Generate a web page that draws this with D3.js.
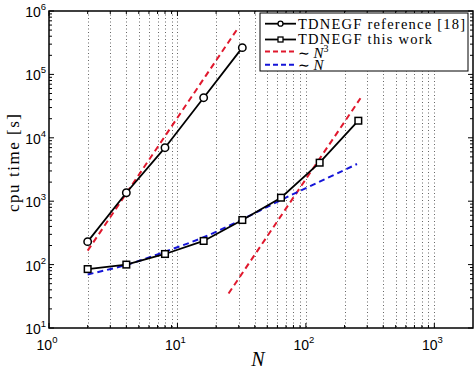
<!DOCTYPE html>
<html>
<head>
<meta charset="utf-8">
<script src="https://cdn.jsdelivr.net/npm/d3@7"></script>
<style>
  html, body { margin: 0; padding: 0; background: #fff; }
  svg { display: block; }
</style>
</head>
<body>
<svg id="chart" width="474" height="369"></svg>
<script>
// ---- data ----
const refN = [2, 4, 8, 16, 32];
const refTime = [230, 1360, 6980, 42900, 264000];
const thisN = [2, 4, 8, 16, 32, 64, 128, 256];
const thisTime = [85, 100, 147, 236, 505, 1136, 4050, 18600];
const cubeN1 = [2, 30];
const cubeT1 = [166, 560000];
const cubeN2 = [25, 266];
const cubeT2 = [35, 42000];
const linN = [2, 4, 8, 16, 32, 64, 128, 250];
const linT = [70, 99, 160, 270, 518, 1045, 2030, 3860];
const xTickExps = [0, 1, 2, 3];
const yTickExps = [1, 2, 3, 4, 5, 6];
const legendLabels = ["TDNEGF reference [18]", "TDNEGF this work", "\u223C ", "\u223C "];

// ---- layout ----
const svg = d3.select("#chart");
const L = 49, R = 473, T = 11, B = 328;
const x = d3.scaleLog().domain([1, 2000]).range([L, R]);
const y = d3.scaleLog().domain([10, 1e6]).range([B, T]);

// grid: vertical dotted lines at minor positions
const gridVals = [];
for (let e = 0; e <= 3; e++) {
  for (let m = 1; m <= 9; m++) {
    const v = m * Math.pow(10, e);
    if (v > 1 && v < 2000) gridVals.push(v);
  }
}
svg.append("g").selectAll("line").data(gridVals).join("line")
  .attr("x1", d => Math.round(x(d)) + 0.5).attr("x2", d => Math.round(x(d)) + 0.5)
  .attr("y1", T).attr("y2", B)
  .attr("stroke", "#666").attr("stroke-width", 1)
  .attr("stroke-dasharray", "1,2.5");

// frame & ticks
const frame = svg.append("g");
frame.append("rect").attr("x", L).attr("y", T).attr("width", R - L).attr("height", B - T)
  .attr("fill", "none").attr("stroke", "#000").attr("stroke-width", 1.5);

const xMinor = [], yMinor = [];
for (let e = 0; e <= 3; e++) for (let m = 2; m <= 9; m++) { const v = m * Math.pow(10, e); if (v < 2000) xMinor.push(v); }
for (let e = 1; e <= 5; e++) for (let m = 2; m <= 9; m++) yMinor.push(m * Math.pow(10, e));
const xMajor = xTickExps.map(e => Math.pow(10, e));
const yMajor = yTickExps.map(e => Math.pow(10, e));

function xt(vals, len) {
  frame.append("g").selectAll("line").data(vals).join("line")
    .attr("x1", d => x(d)).attr("x2", d => x(d)).attr("y1", B).attr("y2", B - len)
    .attr("stroke", "#000").attr("stroke-width", 1);
  frame.append("g").selectAll("line").data(vals).join("line")
    .attr("x1", d => x(d)).attr("x2", d => x(d)).attr("y1", T).attr("y2", T + len)
    .attr("stroke", "#000").attr("stroke-width", 1);
}
function yt(vals, len) {
  frame.append("g").selectAll("line").data(vals).join("line")
    .attr("y1", d => y(d)).attr("y2", d => y(d)).attr("x1", L).attr("x2", L + len)
    .attr("stroke", "#000").attr("stroke-width", 1);
  frame.append("g").selectAll("line").data(vals).join("line")
    .attr("y1", d => y(d)).attr("y2", d => y(d)).attr("x1", R).attr("x2", R - len)
    .attr("stroke", "#000").attr("stroke-width", 1);
}
xt(xMinor, 3); xt(xMajor, 5); yt(yMinor, 3); yt(yMajor, 5);

// tick labels
const tickFont = "'Liberation Sans', Arial, sans-serif";
const xl = svg.append("g").selectAll("text").data(xTickExps).join("text")
  .attr("x", d => x(Math.pow(10, d)) - 2).attr("y", 350)
  .attr("text-anchor", "middle")
  .attr("font-family", tickFont).attr("font-size", 14).attr("fill", "#000");
xl.append("tspan").text("10");
xl.append("tspan").attr("dy", -7).attr("font-size", 9.5).text(d => d);

const yl = svg.append("g").selectAll("text").data(yTickExps).join("text")
  .attr("x", 46).attr("y", d => y(Math.pow(10, d)) + 6)
  .attr("text-anchor", "end")
  .attr("font-family", tickFont).attr("font-size", 14).attr("fill", "#000");
yl.append("tspan").text("10");
yl.append("tspan").attr("dy", -7).attr("font-size", 9.5).text(d => d);

// axis labels
svg.append("text").attr("transform", "translate(19,163) rotate(-90)")
  .attr("text-anchor", "middle").attr("font-family", "'Liberation Serif', serif")
  .attr("font-size", 17).attr("textLength", 98).attr("lengthAdjust", "spacing").text("cpu time [s]");
svg.append("text").attr("x", 258).attr("y", 366)
  .attr("text-anchor", "middle").attr("font-family", "'Liberation Serif', serif")
  .attr("font-style", "italic").attr("font-size", 20).text("N");

// lines
const line = d3.line().x(d => x(d[0])).y(d => y(d[1]));
const curve = d3.line().x(d => x(d[0])).y(d => y(d[1])).curve(d3.curveCatmullRom);
const plot = svg.append("g");
const red = "#e0182d", blue = "#1515d8";

plot.append("path").datum(d3.zip(cubeN1, cubeT1)).attr("d", line)
  .attr("fill", "none").attr("stroke", red).attr("stroke-width", 2).attr("stroke-dasharray", "6,4");
plot.append("path").datum(d3.zip(cubeN2, cubeT2)).attr("d", line)
  .attr("fill", "none").attr("stroke", red).attr("stroke-width", 2).attr("stroke-dasharray", "6,4");
plot.append("path").datum(d3.zip(linN, linT)).attr("d", curve)
  .attr("fill", "none").attr("stroke", blue).attr("stroke-width", 2).attr("stroke-dasharray", "6,4");

plot.append("path").datum(d3.zip(refN, refTime)).attr("d", line)
  .attr("fill", "none").attr("stroke", "#000").attr("stroke-width", 1.8);
plot.append("path").datum(d3.zip(thisN, thisTime)).attr("d", line)
  .attr("fill", "none").attr("stroke", "#000").attr("stroke-width", 1.8);

plot.append("g").selectAll("circle").data(d3.zip(refN, refTime)).join("circle")
  .attr("cx", d => x(d[0])).attr("cy", d => y(d[1])).attr("r", 3.7)
  .attr("fill", "#fff").attr("stroke", "#000").attr("stroke-width", 1.5);
plot.append("g").selectAll("rect").data(d3.zip(thisN, thisTime)).join("rect")
  .attr("x", d => x(d[0]) - 3.3).attr("y", d => y(d[1]) - 3.3).attr("width", 6.6).attr("height", 6.6)
  .attr("fill", "#fff").attr("stroke", "#000").attr("stroke-width", 1.5);

// legend
const lg = svg.append("g");
lg.append("rect").attr("x", 260).attr("y", 13).attr("width", 208).attr("height", 58)
  .attr("fill", "#fff").attr("stroke", "#000").attr("stroke-width", 1);
const rowsY = [23.7, 39.5, 51.5, 64.7];
const lx1 = 265, lx2 = 296, tx = 298;
[[0, "circle"], [1, "square"]].forEach(([i, m]) => {
  lg.append("line").attr("x1", lx1).attr("x2", lx2).attr("y1", rowsY[i]).attr("y2", rowsY[i])
    .attr("stroke", "#000").attr("stroke-width", 1.8);
  if (m === "circle") lg.append("circle").attr("cx", (lx1 + lx2) / 2).attr("cy", rowsY[i]).attr("r", 2.5)
    .attr("fill", "#fff").attr("stroke", "#000").attr("stroke-width", 1.3);
  else lg.append("rect").attr("x", (lx1 + lx2) / 2 - 2.5).attr("y", rowsY[i] - 2.5).attr("width", 5).attr("height", 5)
    .attr("fill", "#fff").attr("stroke", "#000").attr("stroke-width", 1.3);
});
[[2, red], [3, blue]].forEach(([i, c]) => {
  lg.append("line").attr("x1", lx1).attr("x2", lx2).attr("y1", rowsY[i]).attr("y2", rowsY[i])
    .attr("stroke", c).attr("stroke-width", 2).attr("stroke-dasharray", "5,3");
});
const lfont = "'Liberation Serif', serif";
lg.append("text").attr("x", tx).attr("y", 28.5).attr("font-family", lfont).attr("font-size", 14.5)
  .attr("textLength", 167).attr("lengthAdjust", "spacing").text(legendLabels[0]);
lg.append("text").attr("x", tx).attr("y", 44.3).attr("font-family", lfont).attr("font-size", 14.5)
  .attr("textLength", 134).attr("lengthAdjust", "spacing").text(legendLabels[1]);
function approxLabel(i, baseY, exp) {
  const t = lg.append("text").attr("x", tx).attr("y", baseY).attr("font-family", lfont).attr("font-size", 14);
  t.append("tspan").text(legendLabels[i]);
  t.append("tspan").attr("font-style", "italic").attr("font-size", 15).text("N");
  if (exp) t.append("tspan").attr("dy", -6).attr("font-size", 10).text(exp);
}
approxLabel(2, 57.5, "3");
approxLabel(3, 69.5, null);
</script>
</body>
</html>
